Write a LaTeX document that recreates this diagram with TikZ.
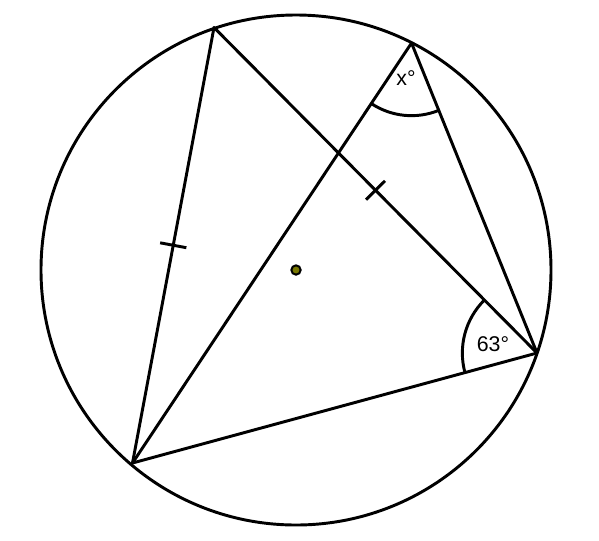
\documentclass[tikz,border=0pt]{standalone}
\usepackage{fontspec}
\setmainfont{Liberation Sans}
\usetikzlibrary{calc,angles}

\tikzset{every picture/.style={line width=2.2pt}}
\tikzset{
  chord/.style={draw=black, line cap=round},
  tickmark/.style={draw=black, line width=2.2pt},
  anglearc/.style={draw=black, line width=2.2pt},
  anglelabel/.style={inner sep=0.75pt, font=\fontsize{16}{19}\selectfont}
}

\begin{document}
\begin{tikzpicture}[x=0.75pt,y=0.75pt,yscale=-1,xscale=1]
\useasboundingbox (0,0) rectangle (599,540);

% circle and its centre
\coordinate (O) at (296,270);
\draw (O) circle [radius=255*0.75pt];

% points on the circle
\coordinate (A) at (214,27.5);
\coordinate (B) at (411.5,43);
\coordinate (C) at (537,353);
\coordinate (D) at (132.5,463);

% chords
\draw [chord] (A) -- (D);
\draw [chord] (A) -- (C);
\draw [chord] (B) -- (D);
\draw [chord] (B) -- (C);
\draw [chord] (D) -- (C);

% equal length marks
\draw [tickmark] ($(A)!0.5!(D)!10pt!90:(D)$) -- ($(A)!0.5!(D)!10pt!-90:(D)$);
\draw [tickmark] ($(A)!0.5!(C)!10pt!90:(C)$) -- ($(A)!0.5!(C)!10pt!-90:(C)$);

% angles
\pic [anglearc, angle radius=54.5pt] {angle = D--B--C};
\pic [anglearc, angle radius=56pt] {angle = A--C--D};

\node [anglelabel] (xlab) at (406,78) {x°};
\node [anglelabel] (anglab) at (493,344) {63°};

% centre dot
\draw [fill={rgb, 255:red, 120; green, 120; blue, 0 }, line width=1.5pt] (O) circle [radius=3.5pt];

\end{tikzpicture}
\end{document}
